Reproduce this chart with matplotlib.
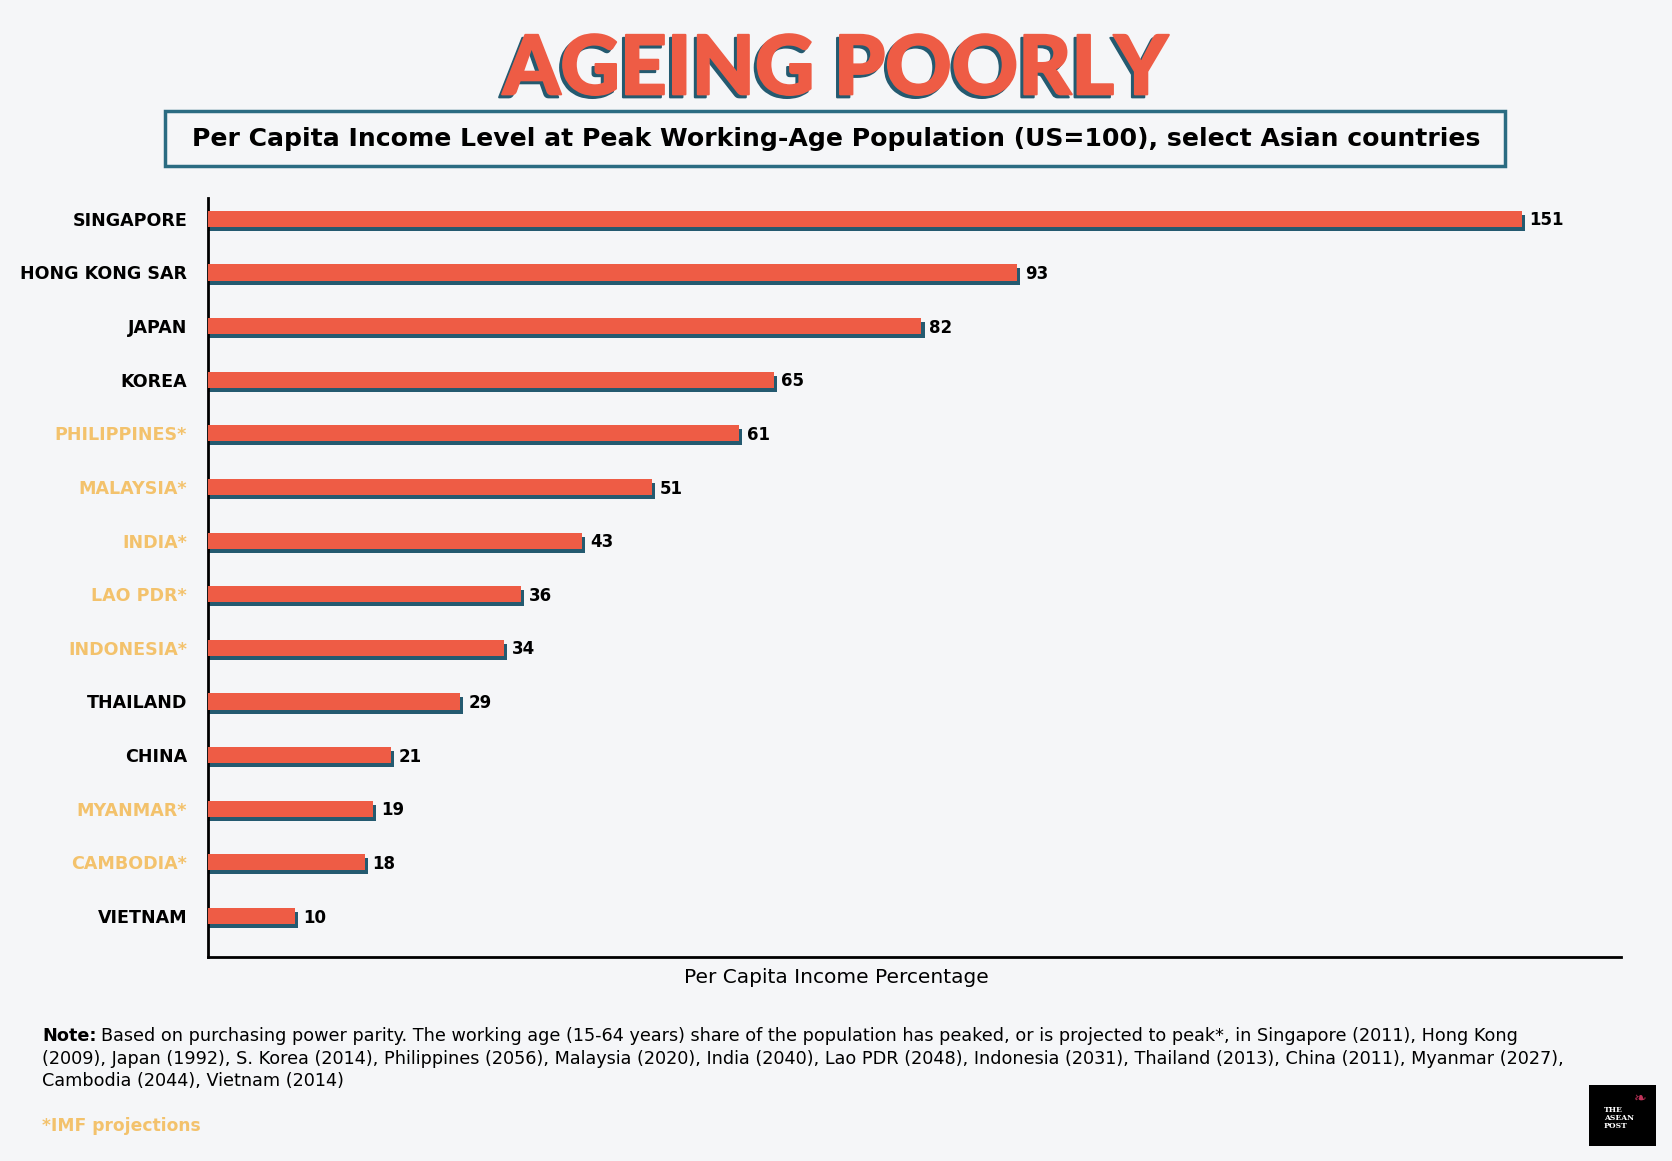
import matplotlib
matplotlib.use("Agg")
import matplotlib.pyplot as plt
import matplotlib.transforms as mtransforms
import matplotlib.patheffects as pe
from matplotlib.patches import Rectangle

# data (US=100)
countries = ["SINGAPORE", "HONG KONG SAR", "JAPAN", "KOREA", "PHILIPPINES*", "MALAYSIA*",
             "INDIA*", "LAO PDR*", "INDONESIA*", "THAILAND", "CHINA", "MYANMAR*",
             "CAMBODIA*", "VIETNAM"]
income = [151, 93, 82, 65, 61, 51, 43, 36, 34, 29, 21, 19, 18, 10]
projected = [c.endswith("*") for c in countries]

BG = "#F5F6F8"
ORANGE = "#EE5C45"
TEAL = "#245A70"
YELLOW = "#F3C26C"

plt.rcParams["font.family"] = ["DejaVu Sans"]

fig = plt.figure(figsize=(16.72, 11.61), dpi=100, facecolor=BG)
ax = fig.add_axes([0.1244, 0.1757, 0.9695 - 0.1244, 0.8295 - 0.1757])
ax.set_facecolor(BG)

y = list(range(len(countries)))
h = 0.30
# shadow bar (down + right), then the orange bar on top
ax.barh([v + 0.075 for v in y], [v + 0.35 for v in income], height=h, color=TEAL, zorder=2)
ax.barh(y, income, height=h, color=ORANGE, zorder=3)
for yi, v in zip(y, income):
    ax.text(v + 0.9, yi + 0.03, f"{v}", va="center", ha="left", fontsize=12,
            fontweight="bold", color="black")

ax.set_xlim(0, 162.4)
ax.set_ylim(13.765, -0.39)
ax.set_yticks(y)
ax.set_yticklabels(countries, fontsize=12.6, fontweight="bold")
for lbl, p in zip(ax.get_yticklabels(), projected):
    lbl.set_color(YELLOW if p else "black")
ax.tick_params(axis="y", length=0, pad=15)
ax.set_xticks([])
for s in ("top", "right"):
    ax.spines[s].set_visible(False)
ax.spines["left"].set_linewidth(2)
ax.spines["bottom"].set_linewidth(2)
ax.set_xlabel("Per Capita Income Percentage", fontsize=14.5)
# label is centred on the page, not on the axes
ax.xaxis.set_label_coords((836 - 208) / (1621 - 208), -0.0145)

# title with offset shadow (down-left), lightly stroked to look heavier
TY = 0.939
shadow = mtransforms.offset_copy(fig.transFigure, fig=fig, x=-3, y=-3, units="dots")
fig.text(0.5, TY, "AGEING POORLY", transform=shadow, ha="center", va="center",
         fontsize=59, fontweight="black", family=["Lato", "DejaVu Sans"], color=TEAL,
         path_effects=[pe.withStroke(linewidth=1.5, foreground=TEAL)])
fig.text(0.5, TY, "AGEING POORLY", ha="center", va="center",
         fontsize=59, fontweight="black", family=["Lato", "DejaVu Sans"], color=ORANGE,
         path_effects=[pe.withStroke(linewidth=1.5, foreground=ORANGE)])

# boxed subtitle
fig.add_artist(Rectangle((165 / 1672, 1 - 166 / 1161), (1505 - 165) / 1672, 55 / 1161,
                         transform=fig.transFigure, fill=False, edgecolor="#2B6C82", lw=2.5))
fig.text(0.5, 1 - 139 / 1161, "Per Capita Income Level at Peak Working-Age Population (US=100), select Asian countries",
         ha="center", va="center", fontsize=18.1, fontweight="bold", color="black")

# notes
note_lines = [
    "Based on purchasing power parity. The working age (15-64 years) share of the population has peaked, "
    "or is projected to peak*, in Singapore (2011), Hong Kong",
    "(2009), Japan (1992), S. Korea (2014), Philippines (2056), Malaysia (2020), India (2040), Lao PDR (2048), "
    "Indonesia (2031), Thailand (2013), China (2011), Myanmar (2027),",
    "Cambodia (2044), Vietnam (2014)",
]
note_y = [1036, 1059, 1081]
NX = 42 / 1672
NFS = 12.7
head = fig.text(NX, 1 - note_y[0] / 1161, "Note:", ha="left", va="center", fontsize=NFS, fontweight="bold")
ax.annotate(note_lines[0], xy=(1, 0.5), xycoords=head, xytext=(3, 0), textcoords="offset points",
            ha="left", va="center", fontsize=NFS, annotation_clip=False)
for line, yy in zip(note_lines[1:], note_y[1:]):
    fig.text(NX, 1 - yy / 1161, line, ha="left", va="center", fontsize=NFS)
fig.text(NX, 1 - 1126 / 1161, "*IMF projections", ha="left", va="center", fontsize=12.3,
         fontweight="bold", color=YELLOW)

# publisher mark
fig.add_artist(Rectangle((1589 / 1672, 1 - 1146 / 1161), 67 / 1672, 61 / 1161,
                         transform=fig.transFigure, facecolor="black", edgecolor="none"))
fig.text(1604 / 1672, 1 - 1118 / 1161, "THE\nASEAN\nPOST", ha="left", va="center", fontsize=5.5,
         family="DejaVu Serif", fontweight="bold", color="white", linespacing=1.0)
fig.text(1640 / 1672, 1 - 1098 / 1161, "\u2767", ha="center", va="center", fontsize=11,
         color="#C0335A")

fig.savefig("out.png", dpi=100, facecolor=BG)
